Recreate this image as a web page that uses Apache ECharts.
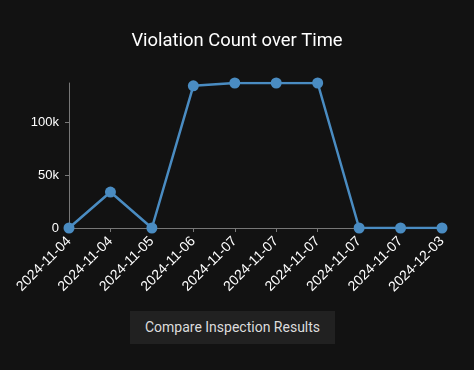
<!DOCTYPE html>
<html><head><meta charset="utf-8">
<script src="https://cdn.jsdelivr.net/npm/echarts@6/dist/echarts.min.js"></script>
<style>
html,body{margin:0;padding:0;background:#121212;width:474px;height:370px;overflow:hidden}
#c{position:absolute;left:0;top:0;width:474px;height:370px}
#btn{position:absolute;left:130px;top:311px;width:205px;height:33px;background:#212121;color:#dcdcdc;border:none;font-family:Roboto,sans-serif;font-size:14px;line-height:33px;text-align:center;padding:0}
</style></head>
<body>
<div id="c"></div>
<button id="btn">Compare Inspection Results</button>
<script>
const categories = ['2024-11-04','2024-11-04','2024-11-05','2024-11-06','2024-11-07','2024-11-07','2024-11-07','2024-11-07','2024-11-07','2024-12-03'];
const violationCounts = [0, 34000, 0, 134500, 137200, 137200, 137200, 0, 0, 0];
const chart = echarts.init(document.getElementById('c'), null, {renderer:'canvas'});
chart.setOption({
  backgroundColor:'#121212',
  animation:false,
  title:{text:'Violation Count over Time',left:'center',top:27,textStyle:{color:'#ffffff',fontFamily:'Roboto',fontSize:18.4,fontWeight:'normal'}},
  grid:{left:69,right:32,top:83,bottom:142},
  xAxis:{type:'category',data:categories,boundaryGap:false,
    axisLine:{lineStyle:{color:'#777',width:1}},
    axisTick:{show:true,alignWithLabel:true,length:4,lineStyle:{color:'#777'}},
    axisLabel:{color:'#fff',rotate:45,fontFamily:'Liberation Sans, Arial',fontSize:14,margin:11,interval:0}},
  yAxis:{type:'value',min:0,max:'dataMax',interval:50000,
    axisLine:{show:true,lineStyle:{color:'#777',width:1}},
    axisTick:{show:true,length:4,lineStyle:{color:'#777'}},
    splitLine:{show:false},
    axisLabel:{color:'#fff',fontFamily:'Liberation Sans, Arial',fontSize:13,margin:10,showMaxLabel:false,
      formatter:v=> v%50000!==0 ? '' : (v===0?'0':(v/1000)+'k')}},
  series:[{type:'line',data:violationCounts,symbol:'circle',symbolSize:11,
    lineStyle:{color:'#4a8cc2',width:2.5},itemStyle:{color:'#4a8cc2'}}]
});
</script>
</body></html>
